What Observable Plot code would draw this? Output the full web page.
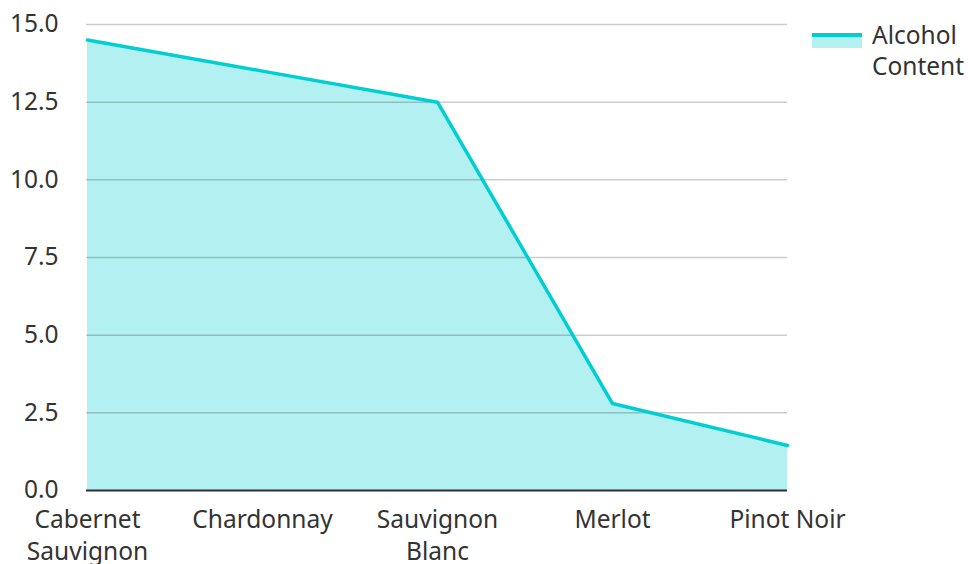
<!DOCTYPE html>
<html>
<head>
<meta charset="utf-8">
<script src="https://cdn.jsdelivr.net/npm/d3@7"></script>
<script src="https://cdn.jsdelivr.net/npm/@observablehq/plot@0.6"></script>
<style>
  body { margin: 0; background: #fff; }
  #wrap { position: relative; width: 968px; height: 564px; font-family: "Noto Sans", sans-serif; }
  #legend { position: absolute; left: 812px; top: 19px; display: flex; align-items: flex-start; color: #333; font-size: 24.5px; line-height: 31px; }
  #legend .sw { width: 50px; height: 15px; margin-top: 14px; margin-right: 10px; background: rgba(0,206,209,0.3); border-top: 4px solid #00ced1; box-sizing: border-box; }
</style>
</head>
<body>
<div id="wrap">
  <div id="chart"></div>
  <div id="legend"><div class="sw"></div><div>Alcohol<br>Content</div></div>
</div>
<script>
const categories = ["Cabernet Sauvignon", "Chardonnay", "Sauvignon Blanc", "Merlot", "Pinot Noir"];
const tickLabels = ["Cabernet\nSauvignon", "Chardonnay", "Sauvignon\nBlanc", "Merlot", "Pinot Noir"];
const alcohol = [14.5, 13.5, 12.5, 2.8, 1.45];
const yTicks = [0, 2.5, 5, 7.5, 10, 12.5, 15];

const data = categories.map((c, i) => ({name: c, value: alcohol[i]}));
const labelOf = new Map(categories.map((c, i) => [c, tickLabels[i]]));

const chart = Plot.plot({
  width: 968,
  height: 564,
  marginLeft: 86,
  marginRight: 181,
  marginTop: 24,
  marginBottom: 74,
  style: {fontFamily: "Noto Sans, sans-serif", fontSize: "24.5px", color: "#333", background: "#fff"},
  x: {type: "point", domain: categories, padding: 0},
  y: {domain: [0, 15]},
  marks: [
    Plot.areaY(data, {x: "name", y: "value", fill: "#00ced1", fillOpacity: 0.3}),
    Plot.gridY(yTicks, {stroke: "#000", strokeOpacity: 0.2, strokeWidth: 1.5}),
    Plot.lineY(data, {x: "name", y: "value", stroke: "#00ced1", strokeWidth: 3.5}),
    Plot.ruleY([0], {stroke: "#333", strokeWidth: 2}),
    Plot.axisY({ticks: yTicks, tickSize: 0, tickPadding: 28, tickFormat: d3.format(".1f"), label: null, fill: "#333"}),
    Plot.axisX({tickSize: 0, tickPadding: 15, tickFormat: d => labelOf.get(d), lineHeight: 1.3, label: null, fill: "#333"})
  ]
});
document.getElementById("chart").appendChild(chart);
</script>
</body>
</html>
